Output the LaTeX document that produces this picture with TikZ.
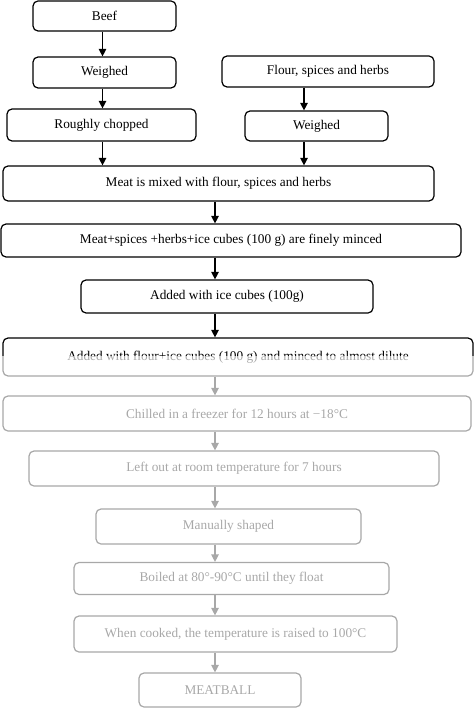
\documentclass[tikz,border=0pt]{standalone}
\usepackage{fontspec}
\setmainfont{Liberation Serif}
\usetikzlibrary{calc, arrows.meta, positioning}

\begin{document}
\begin{tikzpicture}[
   x = 1pt, y = -1pt,
   box/.style = {draw, rounded corners = 5pt, line width = 1.2pt, inner sep = 0pt,
                 font = \fontsize{13.3}{15}\selectfont},
   flow/.style = {line width = 1.3pt, -{Triangle[length = 7.5pt, width = 7.5pt]}}]
   \useasboundingbox (0,0) rectangle (474,711);

   \node[box, minimum width = 143pt, minimum height = 30pt] (beef)    at (104.5,16)  {Beef};
   \node[box, minimum width = 143pt, minimum height = 31pt] (weigh1)  at (104.5,72.5) {Weighed};
   \node[box, minimum width = 189pt, minimum height = 32pt] (chop)    at (101.5,125) {Roughly chopped};
   \node[box, minimum width = 212pt, minimum height = 31pt] (flour)   at (328,71.5)  {Flour, spices and herbs};
   \node[box, minimum width = 143pt, minimum height = 30pt] (weigh2)  at (316.5,126) {Weighed};
   \node[box, minimum width = 431pt, minimum height = 35pt] (mix)     at (218.5,183.5) {Meat is mixed with flour, spices and herbs};
   \node[box, minimum width = 460pt, minimum height = 33pt] (mince)   at (231,240.5) {Meat+spices +herbs+ice cubes (100 g) are finely minced};
   \node[box, minimum width = 292pt, minimum height = 33pt] (ice)     at (227,296.5) {Added with ice cubes (100g)};
   \node[box, minimum width = 470pt, minimum height = 38pt] (dilute)  at (238,357)   {Added with flour+ice cubes (100 g) and minced to almost dilute};
   \node[box, minimum width = 468pt, minimum height = 35pt] (chill)   at (237,413.5) {Chilled in a freezer for 12 hours at −18°C};
   \node[box, minimum width = 410pt, minimum height = 35pt] (rest)    at (234,468.5) {Left out at room temperature for 7 hours};
   \node[box, minimum width = 265pt, minimum height = 35pt] (shape)   at (228.5,526.5) {Manually shaped};
   \node[box, minimum width = 315pt, minimum height = 32pt] (boil)    at (231.5,578.5) {Boiled at 80°-90°C until they float};
   \node[box, minimum width = 323pt, minimum height = 36pt] (cook)    at (235.5,634)  {When cooked, the temperature is raised to 100°C};
   \node[box, minimum width = 162pt, minimum height = 34pt] (ball)    at (220,690)   {MEATBALL};

   % arrow lines
   \coordinate (left)  at (102.5,0);
   \coordinate (right) at (304,0);
   \coordinate (mid)   at (215,0);

   \draw[flow] (beef.south -| left)   -- (weigh1.north -| left);
   \draw[flow] (weigh1.south -| left) -- (chop.north -| left);
   \draw[flow] (chop.south -| left)   -- (mix.north -| left);
   \draw[flow] (flour.south -| right)  -- (weigh2.north -| right);
   \draw[flow] (weigh2.south -| right) -- (mix.north -| right);
   \draw[flow] (mix.south -| mid)    -- (mince.north -| mid);
   \draw[flow] (mince.south -| mid)  -- (ice.north -| mid);
   \draw[flow] (ice.south -| mid)    -- (dilute.north -| mid);
   \draw[flow] (dilute.south -| mid) -- (chill.north -| mid);
   \draw[flow] (chill.south -| mid)  -- (rest.north -| mid);
   \draw[flow] (rest.south -| mid)   -- (shape.north -| mid);
   \draw[flow] (shape.south -| mid)  -- (boil.north -| mid);
   \draw[flow] (boil.south -| mid)   -- (cook.north -| mid);
   \draw[flow] (cook.south -| mid)   -- (ball.north -| mid);

   % faded lower part
   \fill[white, opacity = 0.66] (0,356) rectangle (474,711);
\end{tikzpicture}
\end{document}
